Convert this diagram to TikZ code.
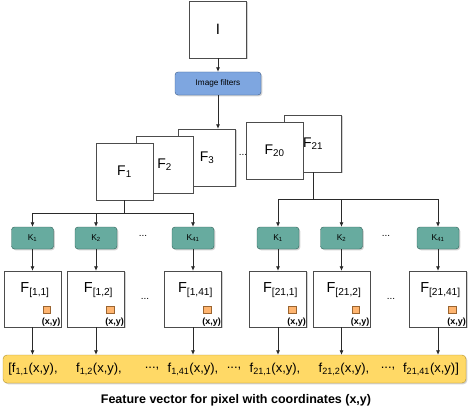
\documentclass[tikz,border=0pt]{standalone}
\usepackage{fontspec}
\setmainfont{Liberation Sans}
\usetikzlibrary{arrows.meta,shadows,positioning}

\definecolor{filtblue}{HTML}{7EA6E0}
\definecolor{filtedge}{HTML}{3C5C8A}
\definecolor{kteal}{HTML}{67AB9F}
\definecolor{kedge}{HTML}{2E5E56}
\definecolor{vecyellow}{HTML}{FFD966}
\definecolor{vecedge}{HTML}{B0902A}
\definecolor{pxorange}{HTML}{FFB570}
\definecolor{pxedge}{HTML}{9A6430}
\definecolor{lineg}{HTML}{2A2A2A}

\newcommand{\fsz}[1]{\fontsize{#1}{#1}\selectfont}

\tikzset{
	shad/.style = {drop shadow = {shadow xshift = 1.3pt, shadow yshift = -1.3pt, opacity = .35}},
	imgbox/.style = {draw = black!70, fill = white, shad, minimum width = 57pt, minimum height = 57pt, inner sep = 0pt, font = \fsz{14}},
	filtbox/.style = {draw = filtedge, fill = filtblue, rounded corners = 3pt, shad, minimum width = 86pt, minimum height = 23pt, inner sep = 0pt, font = \fsz{8.2}},
	kbox/.style = {draw = kedge, fill = kteal, rounded corners = 3pt, shad, minimum width = 42pt, minimum height = 22pt, inner sep = 0pt, font = \fsz{8.5}},
	fmap/.style = {draw = black!70, fill = white, shad, minimum width = 57pt, minimum height = 56pt, inner sep = 0pt},
	flbl/.style = {font = \fsz{14.5}, inner sep = 0pt},
	px/.style = {draw = pxedge, fill = pxorange, minimum width = 7.5pt, minimum height = 7pt, inner sep = 0pt},
	xy/.style = {font = \bfseries\fsz{9}, inner sep = .6pt, anchor = south east},
	dots/.style = {font = \fsz{10}, inner sep = 0pt},
	vtxt/.style = {font = \fsz{13}, inner sep = 0pt},
	conn/.style = {draw = lineg, line width = .7pt},
	>={Latex[length = 4.5pt, width = 4pt]}
}

\begin{document}
\begin{tikzpicture}[x = 1pt, y = -1pt]
	\useasboundingbox (0,0) rectangle (474,412);

	% input image and filter bank
	\node[imgbox, font = \fsz{15}] (I) at (218,29.5) {I};
	\node[filtbox] (filt) at (218,83.5) {Image filters};

	% filtered images, back to front
	\node[imgbox] (F3) at (207,157.5) {F\textsubscript{3}};
	\node[imgbox] (F2) at (164.5,164.5) {F\textsubscript{2}};
	\node[imgbox] (F1) at (124.5,171.5) {F\textsubscript{1}};
	\node[dots] (d0) at (243,155) {...};
	\node[imgbox] (F21) at (313,143.5) {F\textsubscript{21}};
	\node[imgbox] (F20) at (274.5,150.5) {F\textsubscript{20}};

	\coordinate (jl) at (124.5,213);
	\coordinate (jr) at (313,199);

	% kernels
	\node[kbox] (K11) at (32.5,238) {K\textsubscript{1}};
	\node[kbox] (K12) at (96,238) {K\textsubscript{2}};
	\node[dots] (d1) at (143,236) {...};
	\node[kbox] (K141) at (193,238) {K\textsubscript{41}};
	\node[kbox] (K211) at (278,238) {K\textsubscript{1}};
	\node[kbox] (K212) at (341.5,238) {K\textsubscript{2}};
	\node[dots] (d2) at (386,236) {...};
	\node[kbox] (K2141) at (438,238) {K\textsubscript{41}};

	% feature maps
	\node[fmap] (M11) at (32.5,299) {};
	\node[fmap] (M12) at (96,299) {};
	\node[dots] (d3) at (145,299) {...};
	\node[fmap] (M141) at (193,299) {};
	\node[fmap] (M211) at (278,299) {};
	\node[fmap] (M212) at (341.5,299) {};
	\node[dots] (d4) at (391,299) {...};
	\node[fmap] (M2141) at (438,299) {};

	\node[flbl] (t11) at (35,290) {F\textsubscript{[1,1]}};
	\node[flbl] (t12) at (98.5,290) {F\textsubscript{[1,2]}};
	\node[flbl] (t141) at (195.5,290) {F\textsubscript{[1,41]}};
	\node[flbl] (t211) at (280.5,290) {F\textsubscript{[21,1]}};
	\node[flbl] (t212) at (344,290) {F\textsubscript{[21,2]}};
	\node[flbl] (t2141) at (440.5,290) {F\textsubscript{[21,41]}};

	\node[px] (p11) at (46.5,310) {};
	\node[px] (p12) at (110,310) {};
	\node[px] (p141) at (207,310) {};
	\node[px] (p211) at (292,310) {};
	\node[px] (p212) at (355.5,310) {};
	\node[px] (p2141) at (452,310) {};

	\node[xy] (c11) at (M11.south east) {(x,y)};
	\node[xy] (c12) at (M12.south east) {(x,y)};
	\node[xy] (c141) at (M141.south east) {(x,y)};
	\node[xy] (c211) at (M211.south east) {(x,y)};
	\node[xy] (c212) at (M212.south east) {(x,y)};
	\node[xy] (c2141) at (M2141.south east) {(x,y)};

	% feature vector
	\node[draw = vecedge, fill = vecyellow, rounded corners = 4pt, shad, minimum width = 463pt, minimum height = 28pt] (vec) at (234.5,369) {};
	\node[vtxt] (v1) at (33,369) {[f\textsubscript{1,1}(x,y),};
	\node[vtxt] (v2) at (99,369) {f\textsubscript{1,2}(x,y),};
	\node[vtxt] (v3) at (152,369) {...,};
	\node[vtxt] (v4) at (193,369) {f\textsubscript{1,41}(x,y),};
	\node[vtxt] (v5) at (234,369) {...,};
	\node[vtxt] (v6) at (275,369) {f\textsubscript{21,1}(x,y),};
	\node[vtxt] (v7) at (344,369) {f\textsubscript{21,2}(x,y),};
	\node[vtxt] (v8) at (388,369) {...,};
	\node[vtxt] (v9) at (431,369) {f\textsubscript{21,41}(x,y)]};
	\node[font = \bfseries\fsz{12.5}] (cap) at (236,400) {Feature vector for pixel with coordinates (x,y)};

	% connectors
	\draw[conn, ->] (I) -- (filt);
	\draw[conn, ->] (filt.south) -- (filt.south |- F3.north);
	\draw[conn] (F1.south) -- (jl);
	\draw[conn, ->] (jl) -| (K11.north);
	\draw[conn, ->] (jl) -| (K12.north);
	\draw[conn, ->] (jl) -| (K141.north);
	\draw[conn] (F21.south) -- (jr);
	\draw[conn, ->] (jr) -| (K211.north);
	\draw[conn, ->] (jr) -| (K212.north);
	\draw[conn, ->] (jr) -| (K2141.north);
	\draw[conn, ->] (K11) -- (M11);
	\draw[conn, ->] (K12) -- (M12);
	\draw[conn, ->] (K141) -- (M141);
	\draw[conn, ->] (K211) -- (M211);
	\draw[conn, ->] (K212) -- (M212);
	\draw[conn, ->] (K2141) -- (M2141);
	\draw[conn, ->] (M11) -- (M11 |- vec.north);
	\draw[conn, ->] (M12) -- (M12 |- vec.north);
	\draw[conn, ->] (M141) -- (M141 |- vec.north);
	\draw[conn, ->] (M211) -- (M211 |- vec.north);
	\draw[conn, ->] (M212) -- (M212 |- vec.north);
	\draw[conn, ->] (M2141) -- (M2141 |- vec.north);
\end{tikzpicture}
\end{document}
